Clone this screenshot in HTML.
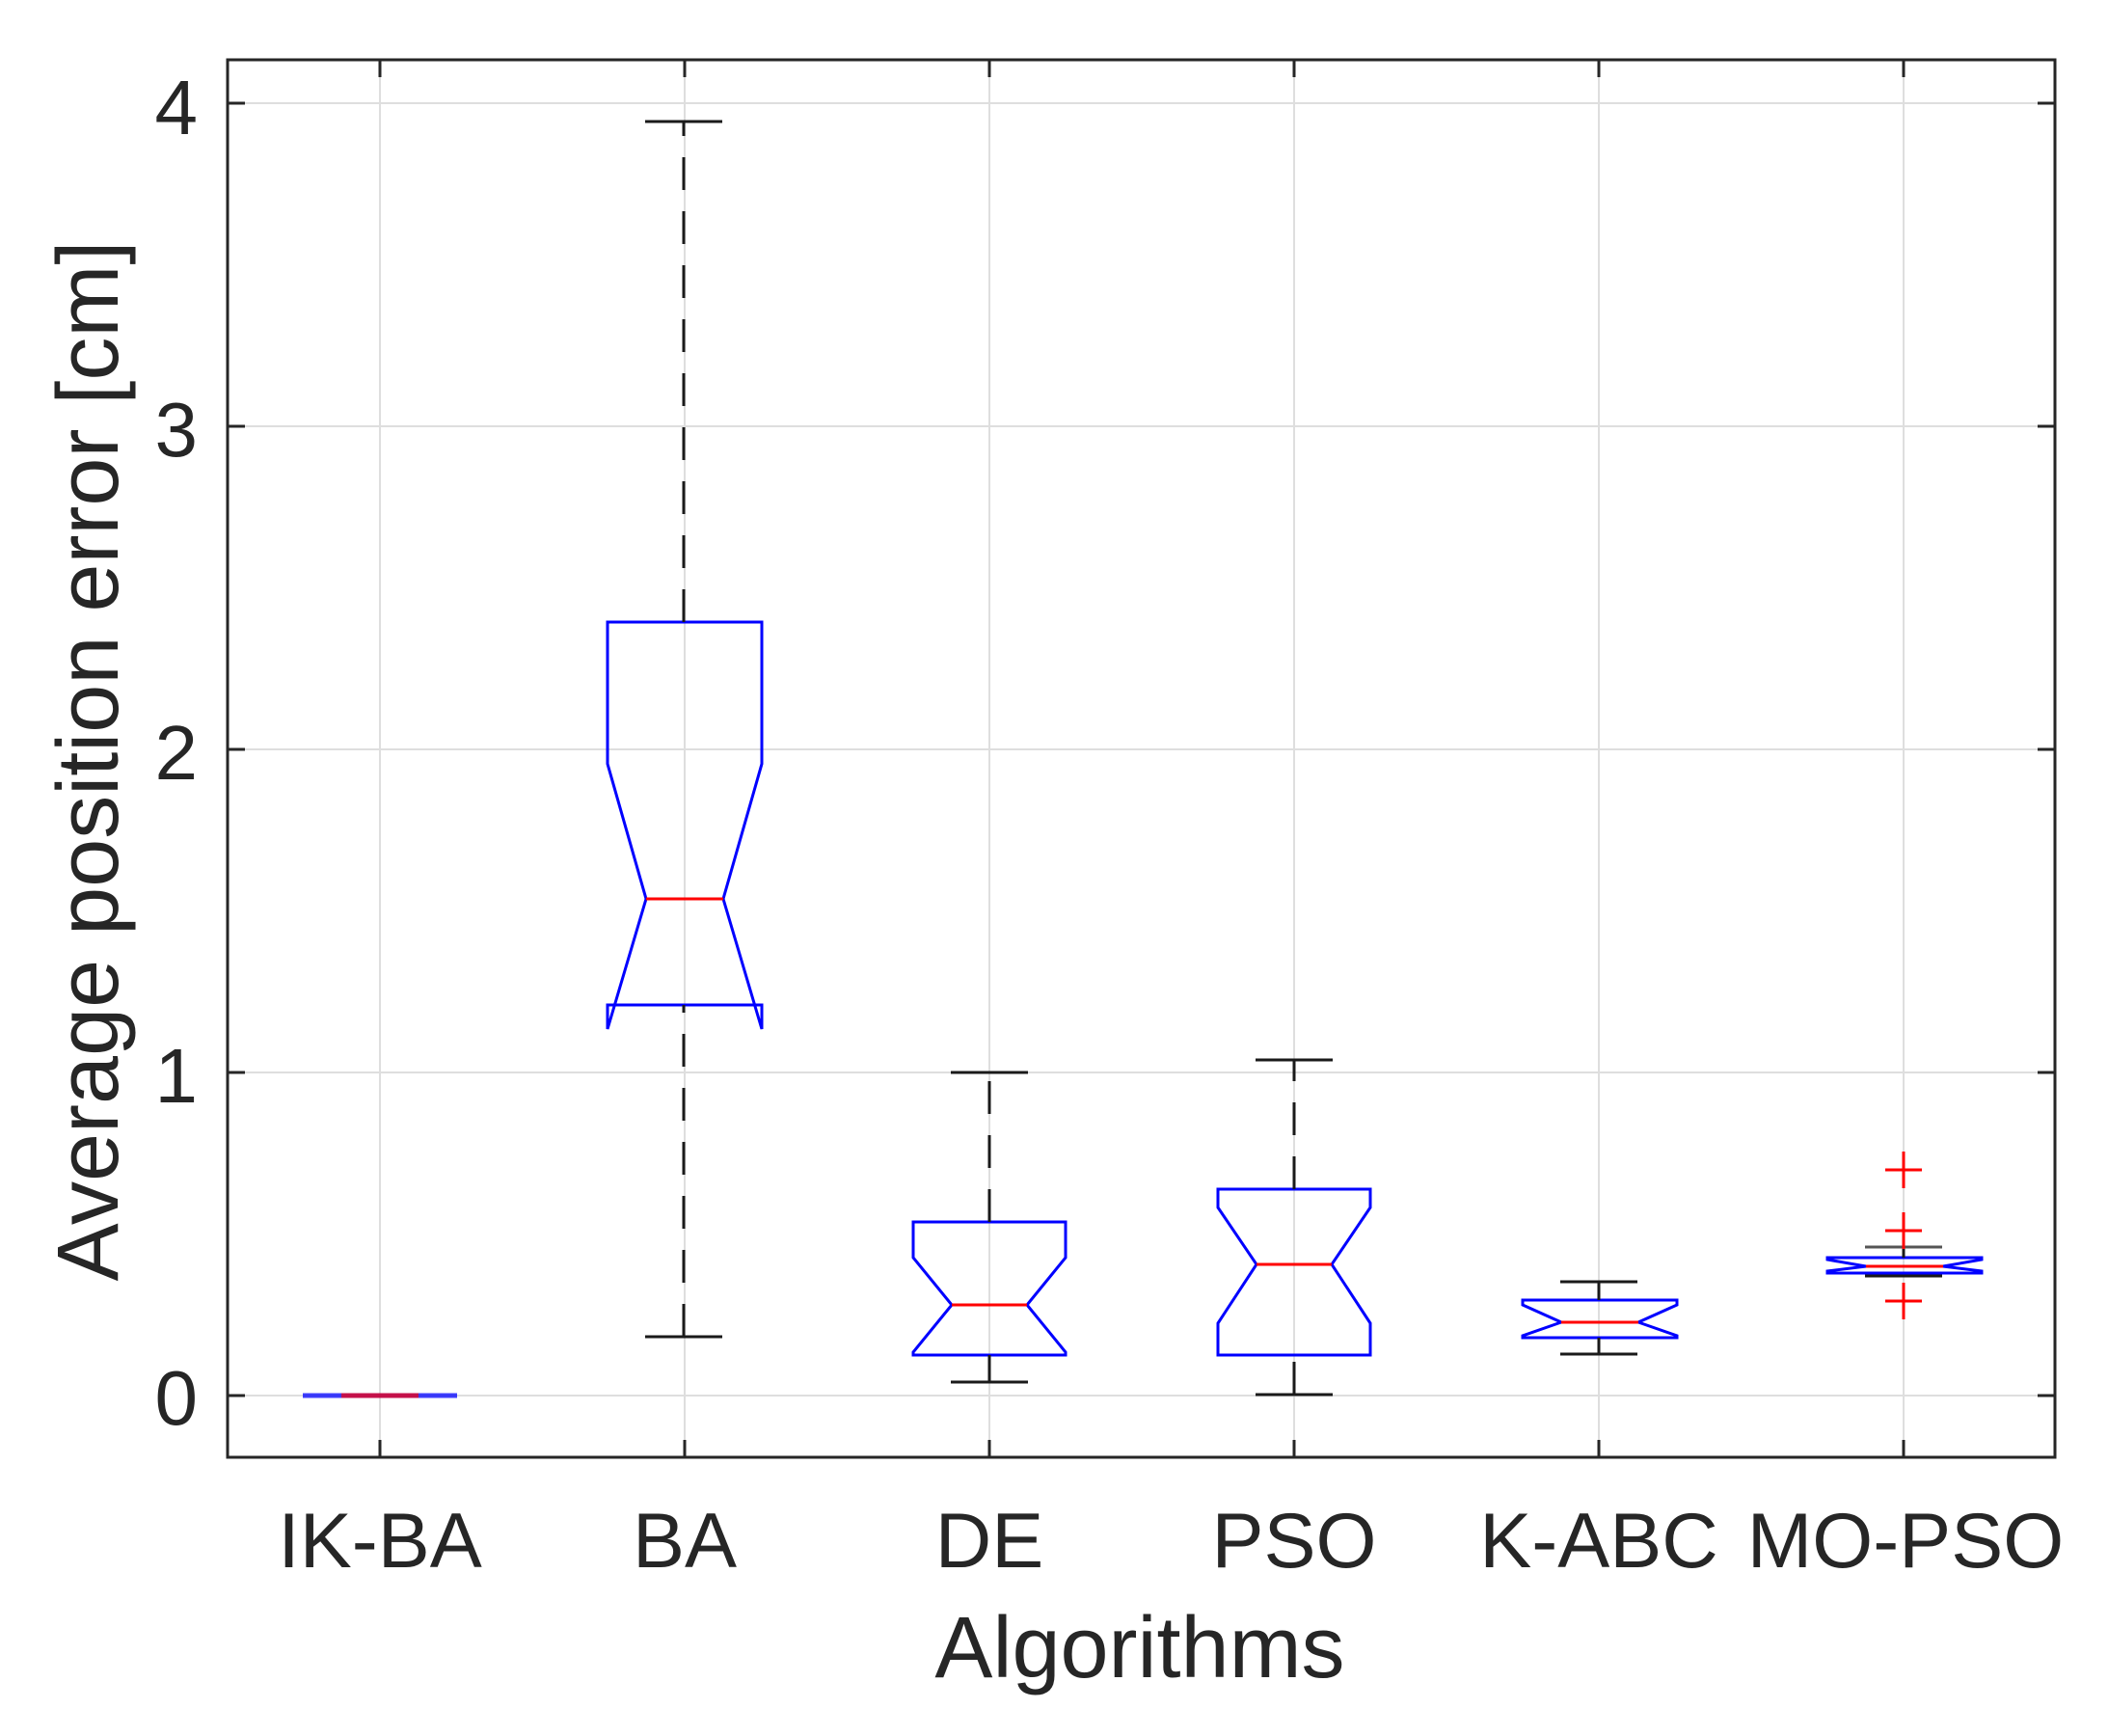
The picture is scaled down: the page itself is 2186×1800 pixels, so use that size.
<!DOCTYPE html>
<html>
<head>
<meta charset="utf-8">
<style>
html,body{margin:0;padding:0;background:#fff;}
svg{display:block;}
text{font-family:"Liberation Sans",Arial,Helvetica,sans-serif;fill:#262626;}
</style>
</head>
<body>
<svg width="2186" height="1800" viewBox="0 0 2186 1800" xmlns="http://www.w3.org/2000/svg">
<rect x="0" y="0" width="2186" height="1800" fill="#fff"/>
<!-- grid -->
<g stroke="#dedede" stroke-width="2" fill="none">
  <line x1="236" y1="107" x2="2131" y2="107"/>
  <line x1="236" y1="442" x2="2131" y2="442"/>
  <line x1="236" y1="777" x2="2131" y2="777"/>
  <line x1="236" y1="1112" x2="2131" y2="1112"/>
  <line x1="236" y1="1447" x2="2131" y2="1447"/>
  <line x1="394" y1="62" x2="394" y2="1511"/>
  <line x1="710" y1="62" x2="710" y2="1511"/>
  <line x1="1026" y1="62" x2="1026" y2="1511"/>
  <line x1="1342" y1="62" x2="1342" y2="1511"/>
  <line x1="1658" y1="62" x2="1658" y2="1511"/>
  <line x1="1974" y1="62" x2="1974" y2="1511"/>
</g>

<!-- boxes -->
<g stroke="#0000ff" stroke-width="3" fill="none" stroke-linejoin="miter">
  <!-- BA -->
  <polygon points="630,1042 630,1067 670,932 630,792 630,645 790,645 790,792 750,932 790,1067 790,1042"/>
  <!-- DE -->
  <polygon points="947,1405 947,1402 987,1353 947,1304 947,1267 1105,1267 1105,1304 1065,1353 1105,1402 1105,1405"/>
  <!-- PSO -->
  <polygon points="1263,1405 1263,1372 1303,1311 1263,1252 1263,1233 1421,1233 1421,1252 1381,1311 1421,1372 1421,1405"/>
  <!-- K-ABC -->
  <polygon points="1579,1387 1579,1385 1619,1371 1579,1353 1579,1348 1739,1348 1739,1353 1699,1371 1739,1385 1739,1387"/>
  <!-- MO-PSO -->
  <polygon points="1895,1320 1895,1318 1935,1313 1895,1306 1895,1304 2055,1304 2055,1306 2015,1313 2055,1318 2055,1320"/>
</g>
<!-- IK-BA degenerate -->
<line x1="314" y1="1447" x2="474" y2="1447" stroke="#0000ff" stroke-width="5" opacity="0.75"/>

<!-- whiskers -->
<g stroke="#1a1a1a" stroke-width="3" fill="none">
  <g stroke-dasharray="34 22">
    <line x1="709" y1="645" x2="709" y2="126"/>
    <line x1="709" y1="1386" x2="709" y2="1042"/>
    <line x1="1026" y1="1267" x2="1026" y2="1112"/>
    <line x1="1026" y1="1433" x2="1026" y2="1405"/>
    <line x1="1342" y1="1233" x2="1342" y2="1099"/>
    <line x1="1342" y1="1446" x2="1342" y2="1405"/>
    <line x1="1658" y1="1348" x2="1658" y2="1329"/>
    <line x1="1658" y1="1404" x2="1658" y2="1387"/>
    <line x1="1974" y1="1304" x2="1974" y2="1293"/>
  </g>
  <line x1="669" y1="126" x2="749" y2="126"/>
  <line x1="669" y1="1386" x2="749" y2="1386"/>
  <line x1="986" y1="1112" x2="1066" y2="1112"/>
  <line x1="986" y1="1433" x2="1066" y2="1433"/>
  <line x1="1302" y1="1099" x2="1382" y2="1099"/>
  <line x1="1302" y1="1446" x2="1382" y2="1446"/>
  <line x1="1618" y1="1329" x2="1698" y2="1329"/>
  <line x1="1618" y1="1404" x2="1698" y2="1404"/>
  <line x1="1934" y1="1293" x2="2014" y2="1293" stroke="#555"/>
  <line x1="1934" y1="1323" x2="2014" y2="1323"/>
</g>

<!-- medians -->
<g stroke="#ff0000" stroke-width="3">
  <line x1="670" y1="932" x2="750" y2="932"/>
  <line x1="987" y1="1353" x2="1065" y2="1353"/>
  <line x1="1303" y1="1311" x2="1381" y2="1311"/>
  <line x1="1619" y1="1371" x2="1699" y2="1371"/>
  <line x1="1935" y1="1313" x2="2015" y2="1313"/>
  <line x1="354" y1="1447" x2="434" y2="1447" stroke-width="5" opacity="0.7"/>
</g>

<!-- outliers -->
<g stroke="#ff0000" stroke-width="3">
  <line x1="1955" y1="1213" x2="1993" y2="1213"/><line x1="1974" y1="1194" x2="1974" y2="1232"/>
  <line x1="1955" y1="1276" x2="1993" y2="1276"/><line x1="1974" y1="1257" x2="1974" y2="1295"/>
  <line x1="1955" y1="1349" x2="1993" y2="1349"/><line x1="1974" y1="1330" x2="1974" y2="1368"/>
</g>

<!-- axes box -->
<rect x="236" y="62" width="1895" height="1449" fill="none" stroke="#262626" stroke-width="3"/>
<!-- ticks -->
<g stroke="#262626" stroke-width="3">
  <line x1="236" y1="107" x2="254" y2="107"/><line x1="2131" y1="107" x2="2113" y2="107"/>
  <line x1="236" y1="442" x2="254" y2="442"/><line x1="2131" y1="442" x2="2113" y2="442"/>
  <line x1="236" y1="777" x2="254" y2="777"/><line x1="2131" y1="777" x2="2113" y2="777"/>
  <line x1="236" y1="1112" x2="254" y2="1112"/><line x1="2131" y1="1112" x2="2113" y2="1112"/>
  <line x1="236" y1="1447" x2="254" y2="1447"/><line x1="2131" y1="1447" x2="2113" y2="1447"/>
  <line x1="394" y1="1511" x2="394" y2="1493"/><line x1="394" y1="62" x2="394" y2="80"/>
  <line x1="710" y1="1511" x2="710" y2="1493"/><line x1="710" y1="62" x2="710" y2="80"/>
  <line x1="1026" y1="1511" x2="1026" y2="1493"/><line x1="1026" y1="62" x2="1026" y2="80"/>
  <line x1="1342" y1="1511" x2="1342" y2="1493"/><line x1="1342" y1="62" x2="1342" y2="80"/>
  <line x1="1658" y1="1511" x2="1658" y2="1493"/><line x1="1658" y1="62" x2="1658" y2="80"/>
  <line x1="1974" y1="1511" x2="1974" y2="1493"/><line x1="1974" y1="62" x2="1974" y2="80"/>
</g>

<!-- y tick labels -->
<g font-size="80" text-anchor="end">
  <text x="205" y="139">4</text>
  <text x="205" y="473">3</text>
  <text x="205" y="808">2</text>
  <text x="205" y="1143">1</text>
  <text x="205" y="1477">0</text>
</g>
<!-- x tick labels -->
<g font-size="81" text-anchor="middle">
  <text x="394" y="1625">IK-BA</text>
  <text x="710" y="1625">BA</text>
  <text x="1026" y="1625">DE</text>
  <text x="1342" y="1625">PSO</text>
  <text x="1658" y="1625">K-ABC</text>
  <text x="1976" y="1625">MO-PSO</text>
</g>
<!-- axis labels -->
<text x="1182" y="1739" font-size="90" text-anchor="middle">Algorithms</text>
<text transform="translate(122,789) rotate(-90)" font-size="90" text-anchor="middle">Average position error [cm]</text>
</svg>
</body>
</html>
